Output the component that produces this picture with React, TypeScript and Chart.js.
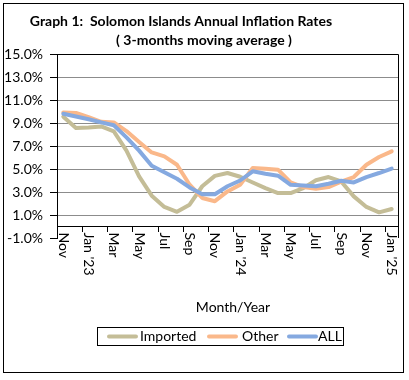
import React, { useEffect, useRef } from 'react';
import { Chart, registerables } from 'chart.js';

Chart.register(...registerables);

const months = [
  'Nov', 'Dec', "Jan '23", 'Feb', 'Mar', 'Apr', 'May', 'Jun', 'Jul', 'Aug', 'Sep', 'Oct', 'Nov',
  'Dec', "Jan '24", 'Feb', 'Mar', 'Apr', 'May', 'Jun', 'Jul', 'Aug', 'Sep', 'Oct', 'Nov', 'Dec', "Jan '25",
];

const imported = [
  9.55, 8.56, 8.6, 8.7, 8.27, 6.6, 4.36, 2.68, 1.7, 1.28, 1.9, 3.5, 4.4,
  4.65, 4.33, 3.83, 3.34, 2.91, 2.91, 3.34, 4.02, 4.3, 3.92, 2.62, 1.7, 1.23, 1.52,
];
const other = [
  9.92, 9.87, 9.5, 9.1, 9.05, 8.3, 7.35, 6.44, 6.1, 5.37, 3.63, 2.48, 2.2,
  3.05, 3.63, 5.09, 5.03, 4.94, 3.83, 3.43, 3.28, 3.43, 3.9, 4.3, 5.37, 6.04, 6.53,
];
const all = [
  9.81, 9.57, 9.32, 9.05, 8.8, 7.75, 6.6, 5.29, 4.71, 4.15, 3.4, 2.8, 2.8,
  3.5, 4.0, 4.8, 4.59, 4.42, 3.63, 3.57, 3.5, 3.72, 3.98, 3.83, 4.3, 4.65, 5.03,
];

const seriesNames = ['Imported', 'Other', 'ALL'];
const seriesColors = ['#C4BD97', '#FAB88A', '#85A9E0'];

const titleLine1 = 'Graph 1:  Solomon Islands Annual Inflation Rates';
const titleLine2 = '( 3-months moving average )';
const xAxisTitle = 'Month/Year';

const FONT = 'Lato, "Open Sans", sans-serif';

const decor = {
  id: 'decor',
  afterDraw(chart: any) {
    const { ctx, chartArea, scales } = chart;
    const xs = scales.x;
    const ys = scales.y;
    ctx.save();
    ctx.strokeStyle = '#000';
    ctx.lineWidth = 1;
    // plot area top & right border
    ctx.beginPath();
    ctx.moveTo(chartArea.left, Math.round(chartArea.top) + 0.5);
    ctx.lineTo(Math.round(chartArea.right) + 0.5, Math.round(chartArea.top) + 0.5);
    ctx.lineTo(Math.round(chartArea.right) + 0.5, chartArea.bottom);
    ctx.stroke();

    // outer border
    ctx.strokeRect(3.5, 3.5, 400, 369);

    // title
    ctx.fillStyle = '#000';
    ctx.textBaseline = 'middle';
    ctx.textAlign = 'center';
    ctx.font = `bold 14px ${FONT}`;
    ctx.fillText(titleLine1, 181, 21);
    ctx.fillText(titleLine2, 204, 40);

    // x tick labels, rotated clockwise
    ctx.font = `14px ${FONT}`;
    ctx.textAlign = 'left';
    ctx.textBaseline = 'middle';
    const y0 = ys.getPixelForValue(0) + 6;
    months.forEach((m, i) => {
      if (i % 2 !== 0) return;
      const px = xs.getPixelForValue(i);
      ctx.save();
      ctx.translate(px, y0);
      ctx.rotate(Math.PI / 2);
      ctx.fillText(m, 0, 0);
      ctx.restore();
    });

    // axis title
    ctx.textAlign = 'center';
    ctx.fillText(xAxisTitle, 233, 307);

    // legend
    ctx.strokeRect(97.5, 327.5, 246, 18);
    const lineStarts = [107, 207, 287];
    const textStarts = [140, 242, 318];
    ctx.textAlign = 'left';
    seriesNames.forEach((name, i) => {
      ctx.strokeStyle = seriesColors[i];
      ctx.lineWidth = 4;
      ctx.lineCap = 'round';
      ctx.beginPath();
      ctx.moveTo(lineStarts[i] + 2, 336.5);
      ctx.lineTo(lineStarts[i] + 29, 336.5);
      ctx.stroke();
      ctx.fillText(name, textStarts[i], 336.5);
    });
    ctx.restore();
  },
};

export default function App() {
  const ref = useRef<HTMLCanvasElement>(null);
  useEffect(() => {
    if (!ref.current) return;
    const data = [imported, other, all];
    const chart = new Chart(ref.current, {
      type: 'line',
      data: {
        labels: months,
        datasets: seriesNames.map((name, i) => ({
          label: name,
          data: data[i],
          borderColor: seriesColors[i],
          backgroundColor: seriesColors[i],
          borderWidth: 4,
          pointRadius: 0,
          tension: 0,
          borderJoinStyle: 'round' as const,
          borderCapStyle: 'round' as const,
          order: 2 - i,
        })),
      },
      options: {
        responsive: false,
        animation: false,
        layout: { padding: { left: 5, right: 11, top: 54, bottom: 142 } },
        plugins: { legend: { display: false }, title: { display: false }, tooltip: { enabled: false } },
        scales: {
          x: {
            type: 'category',
            position: { y: 0 } as any,
            offset: true,
            ticks: { display: false, autoSkip: false },
            grid: {
              drawOnChartArea: false,
              offset: true,
              drawTicks: true,
              tickLength: 5,
              color: (c: any) => (typeof c.index === 'number' && c.index % 2 === 0 ? '#000' : 'transparent'),
              tickColor: (c: any) => (typeof c.index === 'number' && c.index % 2 === 0 ? '#000' : 'transparent'),
            },
            border: { display: true, color: '#000', width: 1 },
          },
          y: {
            min: -1,
            max: 15,
            ticks: {
              stepSize: 2,
              padding: 7,
              color: '#000',
              font: { family: FONT, size: 14 },
              callback: (v: any) => Number(v).toFixed(1) + '%',
            },
            grid: {
              color: (c: any) => (c.tick && c.tick.value === -1 ? 'transparent' : '#8c8c8c'),
              tickColor: '#000',
              tickLength: 7,
            },
            border: { display: true, color: '#000', width: 1 },
            afterFit: (s: any) => {
              s.width = 52;
            },
          },
        },
      },
      plugins: [decor],
    });
    return () => chart.destroy();
  }, []);
  return (
    <div style={{ position: 'absolute', left: 0, top: 0, width: 409, height: 380, background: '#fff' }}>
      <canvas ref={ref} width={409} height={380} style={{ display: 'block' }} />
    </div>
  );
}
